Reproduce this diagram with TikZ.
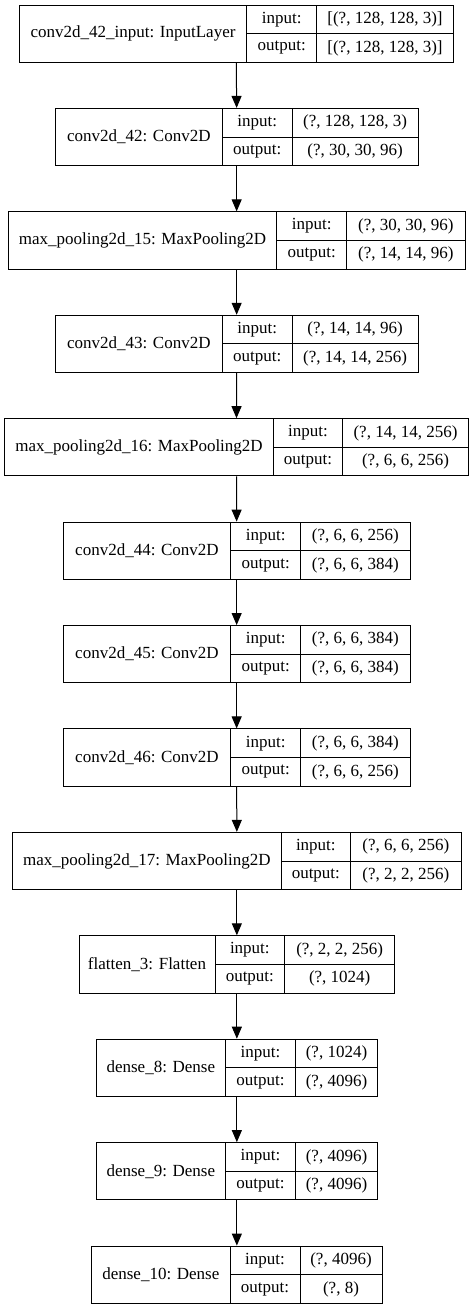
\documentclass[tikz,border=0pt]{standalone}
\usepackage{fontspec}
\setmainfont{Liberation Serif}
\usetikzlibrary{arrows.meta}

\tikzset{
  layerbox/.style={draw, line width=1pt, minimum height=57.3pt, inner sep=0pt},
  cell/.style={font=\fontsize{17}{20}\selectfont, inner sep=0pt},
  flow/.style={-{Triangle[length=12pt,width=10pt]}, line width=1pt},
}

% #1 name, #2 row, #3 left, #4 first divider, #5 second divider, #6 right
\newcommand{\layer}[9]{%
  \pgfmathsetmacro{\ytop}{5+103.42*#2}
  \pgfmathsetmacro{\ybot}{\ytop+57.3}
  \pgfmathsetmacro{\ymid}{\ytop+28.65}
  \node[layerbox, minimum width={#6-#3}] (#1) at ({(#3+#6)/2},\ymid) {};
  \draw[line width=1pt] (#4,\ytop) -- (#4,\ybot) (#5,\ytop) -- (#5,\ybot) (#4,\ymid) -- (#6,\ymid);
  \node[cell] (#1-name) at ({(#3+#4)/2},\ymid) {#7};
  \node[cell] (#1-inkey) at ({(#4+#5)/2},\ytop+14.3) {input:};
  \node[cell] (#1-outkey) at ({(#4+#5)/2},\ytop+43) {output:};
  \node[cell] (#1-in) at ({(#5+#6)/2},\ytop+14.3) {#8};
  \node[cell] (#1-out) at ({(#5+#6)/2},\ytop+43) {#9};
}

\begin{document}
\begin{tikzpicture}[x=1pt, y=-1pt]
  \fill[white] (0,0) rectangle (474,1309);
  \useasboundingbox (0,0) rectangle (474,1309);

  \layer{L1}{0}{19.3}{246.7}{316.7}{453.3}{conv2d\_42\_input: InputLayer}{[(?, 128, 128, 3)]}{[(?, 128, 128, 3)]}
  \layer{L2}{1}{55.3}{222.3}{292.3}{418}{conv2d\_42: Conv2D}{(?, 128, 128, 3)}{(?, 30, 30, 96)}
  \layer{L3}{2}{8.3}{276.7}{346.7}{465}{max\_pooling2d\_15: MaxPooling2D}{(?, 30, 30, 96)}{(?, 14, 14, 96)}
  \layer{L4}{3}{55.3}{222.3}{292.3}{418}{conv2d\_43: Conv2D}{(?, 14, 14, 96)}{(?, 14, 14, 256)}
  \layer{L5}{4}{4.7}{273.3}{342.7}{468.3}{max\_pooling2d\_16: MaxPooling2D}{(?, 14, 14, 256)}{(?, 6, 6, 256)}
  \layer{L6}{5}{63.3}{230.7}{300.7}{410}{conv2d\_44: Conv2D}{(?, 6, 6, 256)}{(?, 6, 6, 384)}
  \layer{L7}{6}{63.3}{230.7}{300.7}{410}{conv2d\_45: Conv2D}{(?, 6, 6, 384)}{(?, 6, 6, 384)}
  \layer{L8}{7}{63.3}{230.7}{300.7}{410}{conv2d\_46: Conv2D}{(?, 6, 6, 384)}{(?, 6, 6, 256)}
  \layer{L9}{8}{12.7}{281}{350.7}{461}{max\_pooling2d\_17: MaxPooling2D}{(?, 6, 6, 256)}{(?, 2, 2, 256)}
  \layer{L10}{9}{79}{215}{284.7}{394.7}{flatten\_3: Flatten}{(?, 2, 2, 256)}{(?, 1024)}
  \layer{L11}{10}{96}{225.7}{295.3}{377.7}{dense\_8: Dense}{(?, 1024)}{(?, 4096)}
  \layer{L12}{11}{96}{225.7}{295.3}{377.7}{dense\_9: Dense}{(?, 4096)}{(?, 4096)}
  \layer{L13}{12}{91.7}{230}{300}{382}{dense\_10: Dense}{(?, 4096)}{(?, 8)}

  \foreach \a/\b in {L1/L2, L2/L3, L3/L4, L4/L5, L5/L6, L6/L7, L7/L8, L8/L9, L9/L10, L10/L11, L11/L12, L12/L13}
    \draw[flow] (\a.south) -- (\b.north);
\end{tikzpicture}
\end{document}
